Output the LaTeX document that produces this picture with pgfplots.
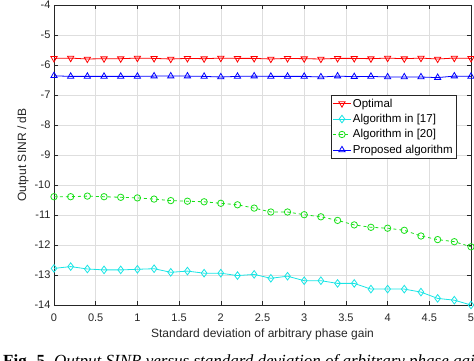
\documentclass[border=0pt]{standalone}
\usepackage{pgfplots}
\pgfplotsset{compat=1.18}
\usepackage{fontspec}
\setmainfont{Liberation Sans}
\newfontfamily\capfont{Liberation Serif}
\definecolor{axgray}{rgb}{0.15,0.15,0.15}
\definecolor{gridgray}{rgb}{0.87,0.87,0.87}
\definecolor{mgreen}{rgb}{0.1,0.88,0.1}
\definecolor{mcyan}{rgb}{0.1,0.9,0.9}
\begin{document}
\begin{tikzpicture}
\useasboundingbox (-54pt,-56pt) rectangle (420pt,305pt);
\begin{axis}[
  at={(0pt,0pt)}, anchor=south west,
  scale only axis, width=417pt, height=300pt,
  xmin=0, xmax=5, ymin=-14, ymax=-4,
  xtick={0,0.5,...,5}, ytick={-14,-13,...,-4},
  xticklabels={0,0.5,1,1.5,2,2.5,3,3.5,4,4.5,5},
  grid=major, grid style={gridgray, line width=0.5pt},
  axis line style={axgray, line width=0.6pt},
  tick style={axgray, line width=0.6pt},
  tick align=inside, major tick length=4pt,
  xtick pos=both, ytick pos=both,
  /pgf/number format/assume math mode=true,
  ticklabel style={font=\fontsize{11}{13}\selectfont, text=axgray},
  xticklabel style={yshift=-5pt},
  xlabel={Standard deviation of arbitrary phase gain},
  ylabel={Output SINR / dB},
  label style={font=\fontsize{12}{14}\selectfont, text=axgray},
  xlabel style={yshift=-1pt},
  ylabel style={yshift=-1pt},
  legend style={at={(axis cs:4.83,-7.0)}, anchor=north east, draw=axgray,
    font=\fontsize{11.5}{14}\selectfont, row sep=1.6pt, inner xsep=2pt, inner ysep=1.5pt,
    legend cell align=left},
]
\addplot[red, line width=0.8pt, mark=triangle, mark size=3.6pt, mark options={solid, rotate=180, fill=white}] coordinates {
(0,-5.78)(0.2,-5.77)(0.4,-5.80)(0.6,-5.79)(0.8,-5.79)(1.0,-5.77)(1.2,-5.78)(1.4,-5.80)(1.6,-5.78)(1.8,-5.79)
(2.0,-5.77)(2.2,-5.78)(2.4,-5.78)(2.6,-5.80)(2.8,-5.78)(3.0,-5.79)(3.2,-5.80)(3.4,-5.78)(3.6,-5.78)(3.8,-5.79)
(4.0,-5.77)(4.2,-5.79)(4.4,-5.77)(4.6,-5.80)(4.8,-5.77)(5.0,-5.78)};
\addlegendentry{Optimal}
\addplot[mcyan, line width=0.8pt, mark=diamond, mark size=3.8pt, mark options={solid, fill=white}] coordinates {
(0,-12.78)(0.2,-12.72)(0.4,-12.80)(0.6,-12.83)(0.8,-12.83)(1.0,-12.81)(1.2,-12.79)(1.4,-12.91)(1.6,-12.87)(1.8,-12.94)
(2.0,-12.94)(2.2,-13.02)(2.4,-12.98)(2.6,-13.11)(2.8,-13.04)(3.0,-13.19)(3.2,-13.19)(3.4,-13.28)(3.6,-13.28)(3.8,-13.47)
(4.0,-13.47)(4.2,-13.47)(4.4,-13.57)(4.6,-13.78)(4.8,-13.84)(5.0,-14.0)};
\addlegendentry{Algorithm in [17]}
\addplot[mgreen, line width=0.8pt, dashed, mark=o, mark size=3.2pt, mark options={solid, fill=white}] coordinates {
(0,-10.39)(0.2,-10.39)(0.4,-10.37)(0.6,-10.39)(0.8,-10.41)(1.0,-10.43)(1.2,-10.47)(1.4,-10.52)(1.6,-10.54)(1.8,-10.56)
(2.0,-10.61)(2.2,-10.66)(2.4,-10.77)(2.6,-10.90)(2.8,-10.90)(3.0,-10.99)(3.2,-11.06)(3.4,-11.18)(3.6,-11.33)(3.8,-11.41)
(4.0,-11.44)(4.2,-11.51)(4.4,-11.70)(4.6,-11.82)(4.8,-11.89)(5.0,-12.06)};
\addlegendentry{Algorithm in [20]}
\addplot[blue, line width=0.8pt, mark=triangle, mark size=3.6pt, mark options={solid, fill=white}] coordinates {
(0,-6.36)(0.2,-6.38)(0.4,-6.38)(0.6,-6.38)(0.8,-6.38)(1.0,-6.38)(1.2,-6.37)(1.4,-6.37)(1.6,-6.37)(1.8,-6.38)
(2.0,-6.40)(2.2,-6.38)(2.4,-6.37)(2.6,-6.38)(2.8,-6.38)(3.0,-6.38)(3.2,-6.40)(3.4,-6.37)(3.6,-6.39)(3.8,-6.38)
(4.0,-6.40)(4.2,-6.40)(4.4,-6.40)(4.6,-6.42)(4.8,-6.37)(5.0,-6.38)};
\addlegendentry{Proposed algorithm}
\end{axis}
\node[anchor=base west, inner sep=0pt, font=\capfont\fontsize{17}{19}\selectfont] at (-51pt,-62pt)
  {\textbf{Fig. 5}\hspace{9pt}{\itshape Output SINR versus standard deviation of arbitrary phase gain}};
\end{tikzpicture}
\end{document}
